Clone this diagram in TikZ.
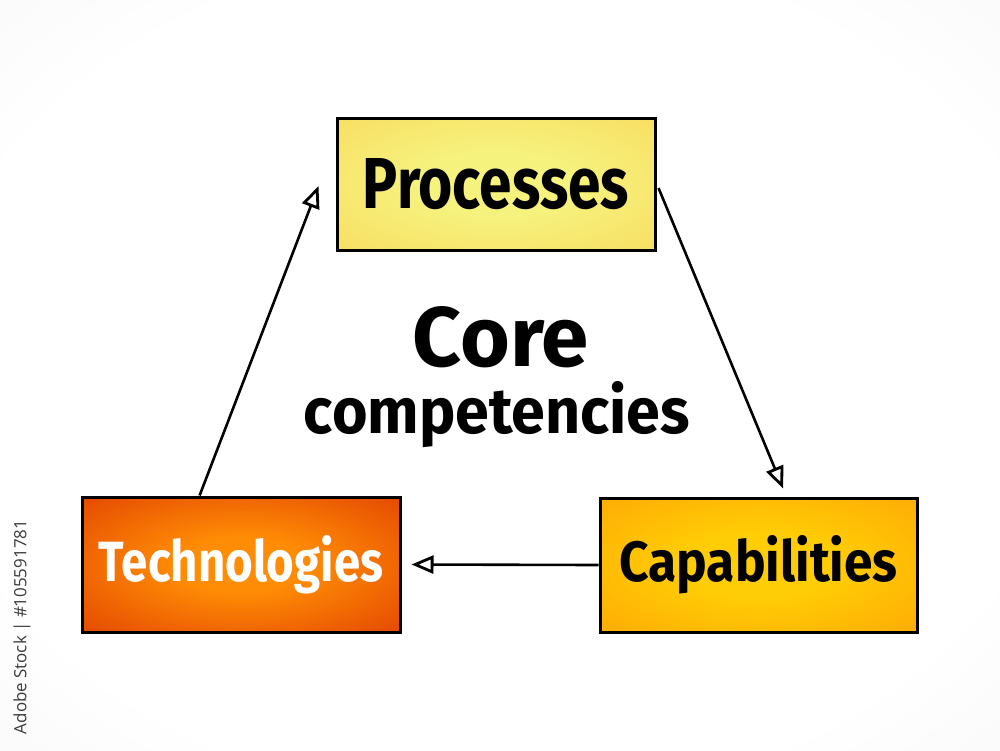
\documentclass[tikz,border=0pt]{standalone}
\usepackage{fontspec}
\setmainfont{Fira Sans}
\newfontfamily\markfont{Open Sans}
\usetikzlibrary{arrows.meta,calc}
\definecolor{pin}{HTML}{F6F27E}
\definecolor{pout}{HTML}{F9D352}
\definecolor{tin}{HTML}{FF8C05}
\definecolor{tout}{HTML}{DA2E00}
\definecolor{cin}{HTML}{FFCD05}
\definecolor{cout}{HTML}{FE9805}
\definecolor{bgout}{HTML}{E4E4E4}
\definecolor{marktext}{HTML}{3A3A3A}
\pgfdeclareradialshading{procshade}{\pgfpoint{0bp}{0bp}}{color(0bp)=(pin); color(12bp)=(pin); color(50bp)=(pout); color(75bp)=(pout)}
\pgfdeclareradialshading{techshade}{\pgfpoint{0bp}{0bp}}{color(0bp)=(tin); color(10bp)=(tin); color(46bp)=(tout); color(75bp)=(tout)}
\pgfdeclareradialshading{capshade}{\pgfpoint{0bp}{0bp}}{color(0bp)=(cin); color(12bp)=(cin); color(50bp)=(cout); color(75bp)=(cout)}
\pgfdeclareradialshading{bgshade}{\pgfpoint{0bp}{0bp}}{color(0bp)=(white); color(28bp)=(white); color(72bp)=(bgout)}
\begin{document}
\begin{tikzpicture}[x=0.5pt,y=-0.5pt,
  box/.style={draw=black, line width=1.5pt, inner sep=0pt, shade},
  lbl/.style={font=\bfseries},
  link/.style={line width=1.3pt, -{Triangle[open,length=11pt,width=9pt,line width=1.4pt]}}]
\shade[shading=bgshade] (0,0) rectangle (1000,750);
\useasboundingbox (0,0) rectangle (1000,750);
% boxes
\node[box, shading=procshade, minimum width=159pt, minimum height=66pt, lbl] (proc) at (496,184)
  {\resizebox{133pt}{25pt}{Processes}};
\node[box, shading=techshade, minimum width=159pt, minimum height=67.5pt, lbl, text=white] (tech) at (241,564.5)
  {\resizebox{142pt}{23pt}{Technologies}};
\node[box, shading=capshade, minimum width=158.5pt, minimum height=67pt, lbl] (cap) at (758.5,565)
  {\resizebox{139pt}{23pt}{Capabilities}};
% centre title
\node[anchor=base, lbl, inner sep=0pt] (core) at (501,366) {\resizebox{88pt}{30pt}{Core}};
\node[anchor=base, lbl, inner sep=0pt] (comp) at (497,433) {\resizebox{193pt}{26pt}{competencies}};
% connectors
\draw[link] ($(tech.north west)!0.371!(tech.north east)$) -- ($(proc.west)+(-17,2)$);
\draw[link] ($(proc.east)+(2,4)$) -- ($(cap.north west)!0.577!(cap.north east)+(0,-8)$);
\draw[link] (cap.west) -- ($(tech.east)+(10,0)$);
% side credit
\node[rotate=90, text=marktext, inner sep=0pt] (mark) at (22,627)
  {\markfont\resizebox{107pt}{!}{Adobe Stock | \#105591781}};
\end{tikzpicture}
\end{document}
